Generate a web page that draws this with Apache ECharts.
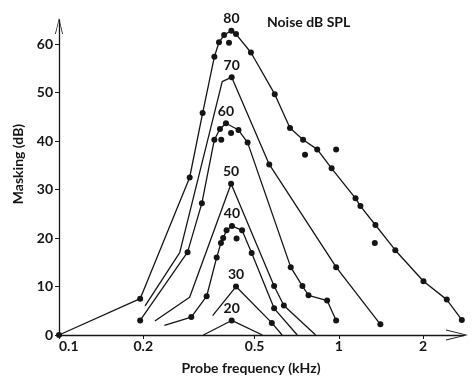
<!DOCTYPE html>
<html>
<head>
<meta charset="utf-8">
<title>Masking vs probe frequency</title>
<script src="https://cdn.jsdelivr.net/npm/echarts@6/dist/echarts.min.js"></script>
<style>
    html, body { margin: 0; padding: 0; background: #fff; }
    #mainChart { width: 474px; height: 376px; }
</style>
</head>
<body>
<div id="mainChart"></div>
<script>
'use strict';

// probe frequency (kHz), masking (dB), one list per noise level
var noise80 = [[0.1, 0], [0.195, 7.5], [0.293, 32.5], [0.326, 45.8], [0.359, 57.4], [0.373, 60.4], [0.389, 61.9],
    [0.413, 62.8], [0.429, 62.1], [0.485, 58.3], [0.59, 49.7], [0.669, 42.7], [0.745, 40.3], [0.837, 38.3],
    [0.942, 34.4], [1.147, 28.2], [1.194, 26.6], [1.351, 22.7], [1.591, 17.5], [2.006, 11.1], [2.43, 7.3], [2.75, 3.1]];
var noise70 = [[0.203, 6], [0.27, 17], [0.383, 52.3], [0.414, 53.2], [0.564, 35.2], [0.978, 14.0], [1.407, 2.2]];
var noise60 = [[0.195, 3.0], [0.288, 17.1], [0.324, 27.2], [0.359, 40.3], [0.376, 42.5], [0.395, 43.7], [0.438, 42.3],
    [0.472, 39.7], [0.673, 14.0], [0.741, 10.1], [0.779, 8.2], [0.908, 7.1], [0.978, 3.0]];
var noise50 = [[0.22, 2.9], [0.293, 7.8], [0.412, 31.2], [0.587, 10.1], [0.636, 6.1], [0.826, 0]];
var noise40 = [[0.238, 2.0], [0.297, 3.7], [0.337, 8.0], [0.366, 16.0], [0.379, 19.0], [0.386, 20.0], [0.397, 21.6],
    [0.415, 22.5], [0.451, 21.6], [0.488, 16.9], [0.587, 5.5], [0.71, 0]];
var noise30 = [[0.354, 4.0], [0.429, 10.0], [0.576, 2.5], [0.627, 0]];
var noise20 = [[0.328, 0], [0.414, 3.0], [0.533, 0]];

// points of the curves that carry no measured dot
var bare80 = [], bare70 = [0, 1, 2], bare60 = [], bare50 = [0, 1, 5], bare40 = [0, 11], bare30 = [0, 3], bare20 = [0, 2];
// index of the peak that gets the level label
var peaks = [7, 3, 5, 2, 7, 1, 1];
var levels = ['80', '70', '60', '50', '40', '30', '20'];

// loose measurements off the curves
var strayPoints = [[0.405, 60.3], [0.38, 40.3], [0.412, 41.7], [0.431, 19.9], [0.757, 37.2], [0.978, 38.3], [1.344, 19.0]];

var xTicks = [0.1, 0.2, 0.5, 1, 2];
var yTicks = [0, 10, 20, 30, 40, 50, 60];

window.onload = function() {
    var ink = '#151515';
    var font = 'Lato, "Open Sans", sans-serif';
    var curves = [noise80, noise70, noise60, noise50, noise40, noise30, noise20];
    var bares = [bare80, bare70, bare60, bare50, bare40, bare30, bare20];

    function buildData(pts, bare, peak, label) {
        return pts.map(function(p, i) {
            var item = { value: p };
            if (bare.indexOf(i) >= 0) item.symbol = 'none';
            if (i === peak) item.label = { show: true, formatter: label };
            return item;
        });
    }

    var series = curves.map(function(pts, k) {
        return {
            name: levels[k],
            type: 'line',
            data: buildData(pts, bares[k], peaks[k], levels[k]),
            symbol: 'circle',
            symbolSize: 6,
            showAllSymbol: true,
            lineStyle: { color: ink, width: 1.3 },
            itemStyle: { color: ink },
            label: {
                show: false,
                position: 'top',
                distance: 2,
                color: ink,
                fontFamily: font,
                fontWeight: 'bold',
                fontSize: 14
            },
            animation: false
        };
    });
    series.push({
        type: 'scatter',
        data: strayPoints,
        symbol: 'circle',
        symbolSize: 6,
        itemStyle: { color: ink, opacity: 1 },
        animation: false
    });

    var myChart = echarts.init(document.getElementById('mainChart'));
    var option = {
        backgroundColor: '#fff',
        title: {
            text: 'Noise dB SPL',
            left: 262,
            top: 10,
            textStyle: { color: ink, fontFamily: font, fontWeight: 'bold', fontSize: 14 }
        },
        grid: { left: 59, top: 20, right: 10, bottom: 41 },
        xAxis: {
            type: 'log',
            logBase: 10,
            min: 0.1,
            max: 2.8,
            axisLine: {
                lineStyle: { color: ink, width: 1.3 },
                symbol: ['none', 'path://M0,20 L5,0 L10,20 L9,20 L5,3 L1,20 Z'],
                symbolSize: [11, 22],
                symbolOffset: [0, -7]
            },
            axisTick: { show: true, length: 4, customValues: xTicks, lineStyle: { color: ink } },
            minorTick: { show: false },
            splitLine: { show: false },
            axisLabel: {
                customValues: xTicks,
                alignMinLabel: 'left',
                margin: 4,
                color: ink,
                fontFamily: font,
                fontWeight: 'bold',
                fontSize: 14,
                formatter: function(v) { return String(+v.toFixed(1)); }
            }
        },
        yAxis: {
            type: 'value',
            min: 0,
            max: 65,
            axisLine: {
                show: true,
                lineStyle: { color: ink, width: 1.3 },
                symbol: ['none', 'path://M0,20 L5,0 L10,20 L9,20 L5,3 L1,20 Z'],
                symbolSize: [8, 16],
                symbolOffset: [0, -6]
            },
            axisTick: { show: true, length: 4, customValues: yTicks, lineStyle: { color: ink } },
            splitLine: { show: false },
            axisLabel: {
                customValues: yTicks,
                margin: 6,
                color: ink,
                fontFamily: font,
                fontWeight: 'bold',
                fontSize: 14
            }
        },
        graphic: [{
            type: 'text',
            x: 251,
            y: 368,
            style: {
                text: 'Probe frequency (kHz)',
                fill: ink,
                font: 'bold 14px ' + font,
                textAlign: 'center',
                textVerticalAlign: 'middle'
            }
        }, {
            type: 'text',
            x: 18,
            y: 164,
            rotation: Math.PI / 2,
            style: {
                text: 'Masking (dB)',
                fill: ink,
                font: 'bold 14px ' + font,
                textAlign: 'center',
                textVerticalAlign: 'middle'
            }
        }],
        series: series
    };
    myChart.setOption(option);
};
</script>
</body>
</html>
